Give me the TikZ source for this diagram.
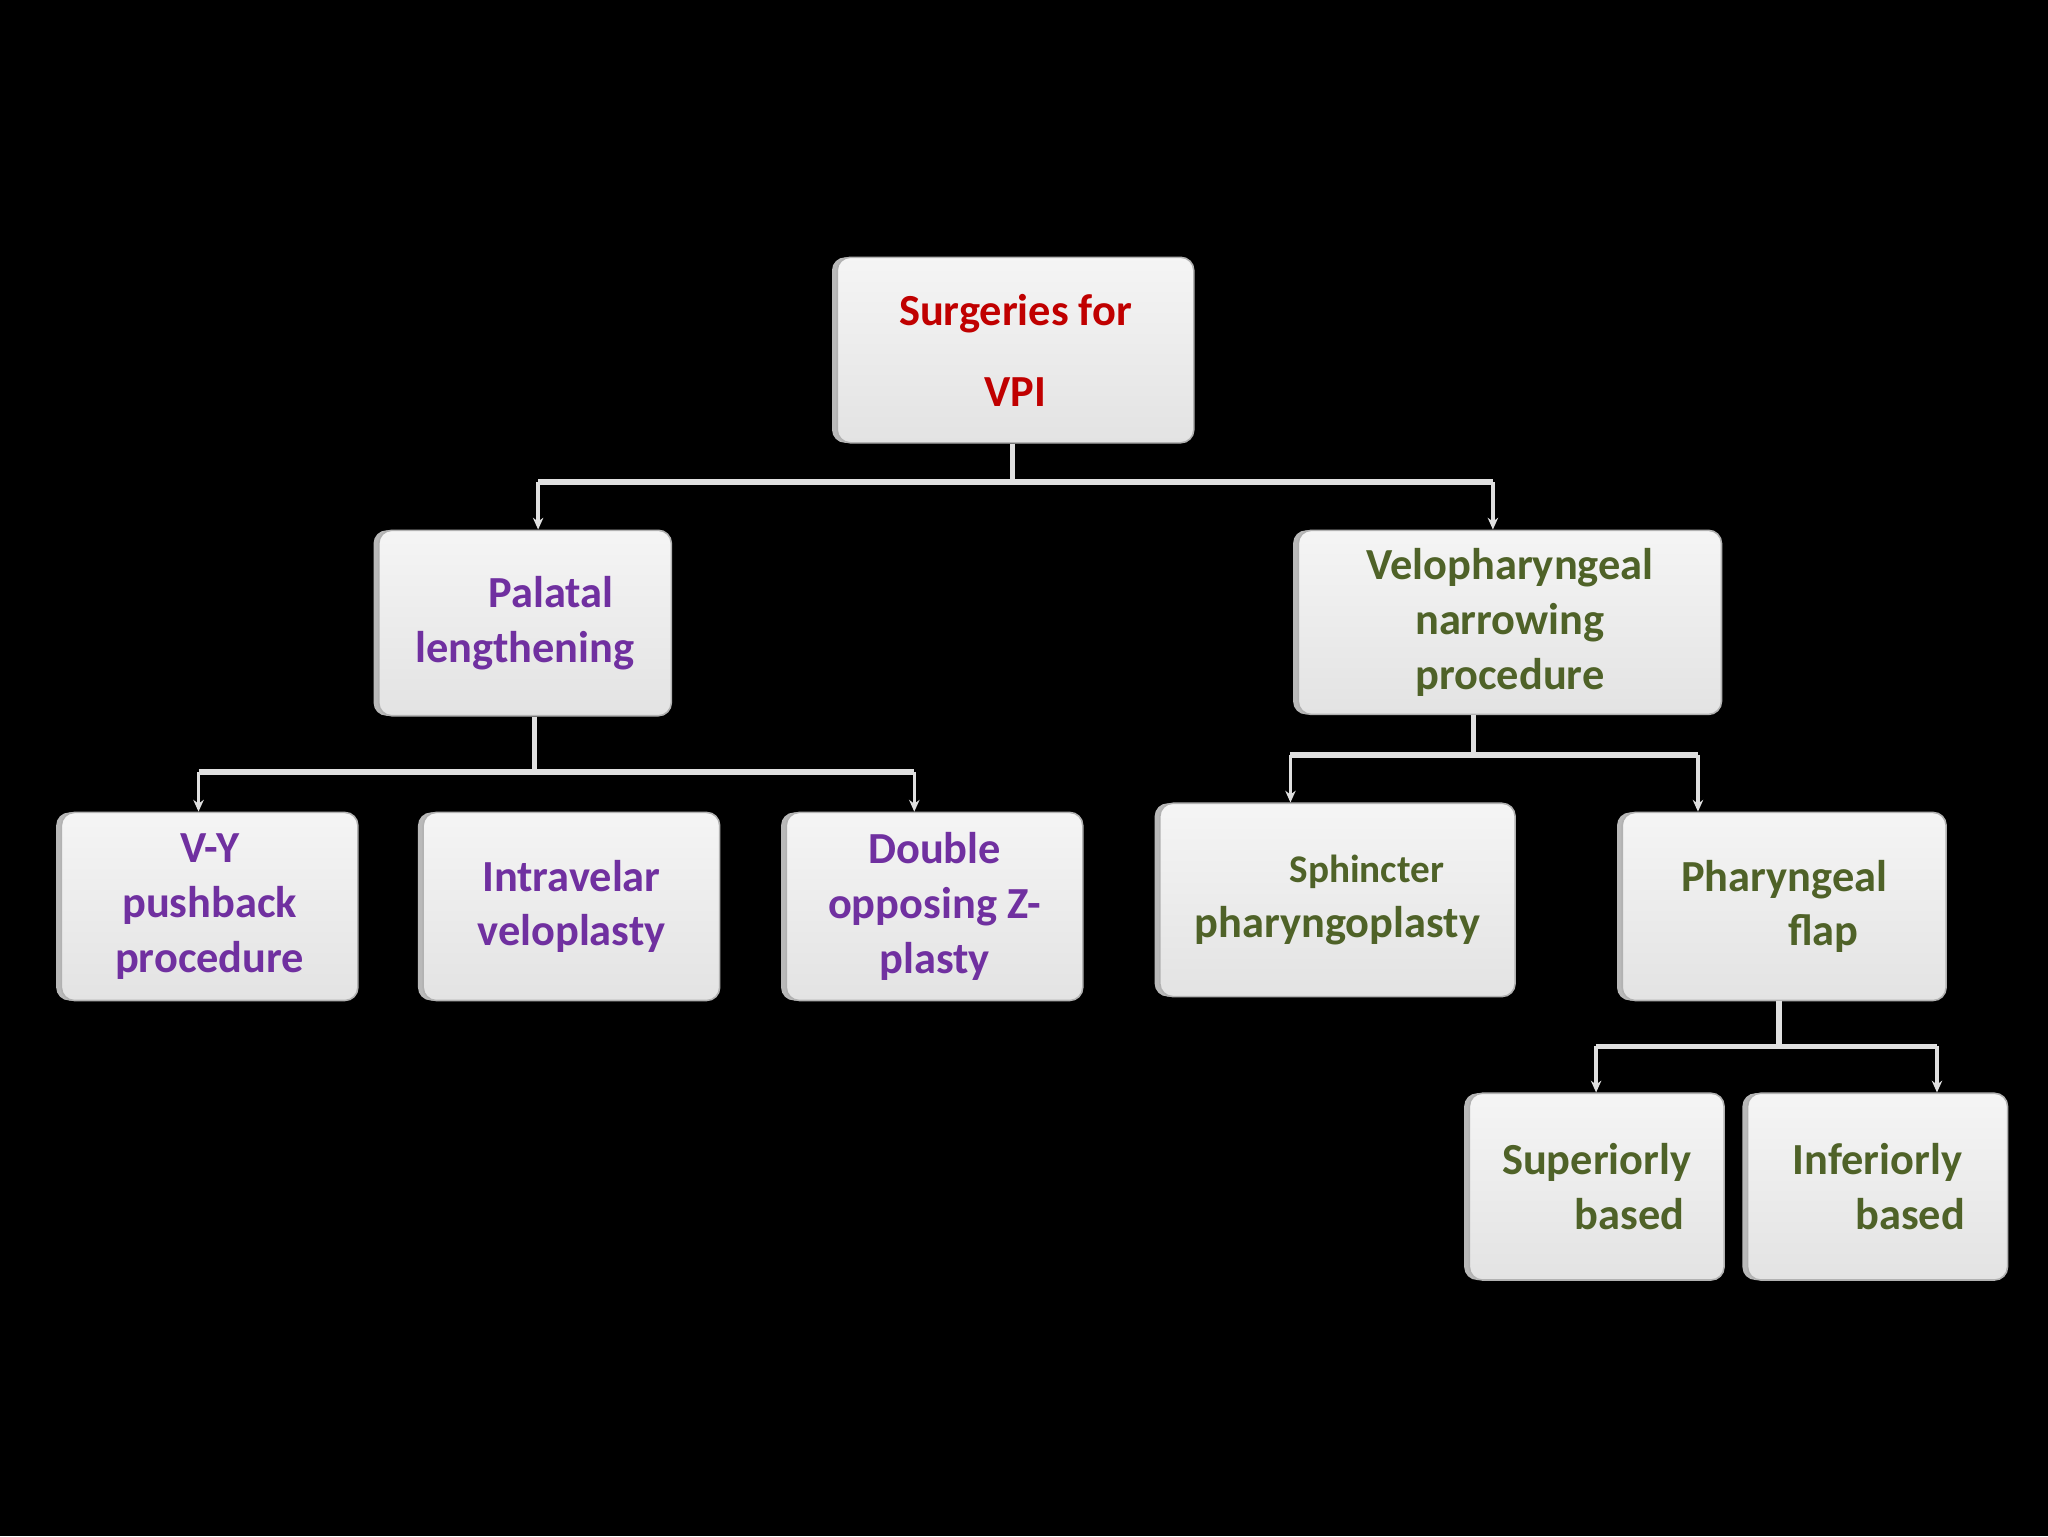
\documentclass[tikz,border=0pt]{standalone}
\usepackage{fontspec}
\setmainfont{Carlito}
\usetikzlibrary{arrows.meta,shadows}
\definecolor{cred}{HTML}{C00000}
\definecolor{cpur}{HTML}{7030A0}
\definecolor{cgrn}{HTML}{4F6228}
\definecolor{cline}{HTML}{E0E0E0}
\begin{document}
\begin{tikzpicture}[x=1pt,y=-1pt,
 box/.style={draw=gray!60,line width=1.2pt,rounded corners=10pt,top color=gray!8,bottom color=gray!22,
   align=center,font=\bfseries\fontsize{34}{42}\selectfont,inner sep=0pt,
   drop shadow={shadow xshift=-4pt,shadow yshift=0pt,fill=gray!55,opacity=1}},
 ln/.style={draw=cline,line width=4pt},
 ar/.style={draw=cline,line width=2.5pt,-{Stealth[length=9pt,width=8pt]}}]
\fill[black] (0,0) rectangle (1568,1176);
\def\bx#1#2#3#4#5#6#7{\node[box,minimum width=#4-#2,minimum height=#5-#3,text=#6] (#1) at ({(#2+#4)/2},{(#3+#5)/2}) {#7};}
\bx{root}{641}{197}{914}{339}{cred}{Surgeries for\\[20pt]VPI}
\bx{pal}{290}{406}{514}{548}{cpur}{\hspace*{40pt}Palatal\\lengthening}
\bx{vel}{994}{406}{1318}{547}{cgrn}{Velopharyngeal\\narrowing\\procedure}
\bx{vy}{47}{622}{274}{766}{cpur}{V-Y\\pushback\\procedure}
\bx{intra}{324}{622}{551}{766}{cpur}{Intravelar\\veloplasty}
\bx{dbl}{602}{622}{829}{766}{cpur}{Double\\opposing Z-\\plasty}
\bx{sph}{888}{615}{1160}{763}{cgrn}{\fontsize{30}{42}\selectfont\hspace*{45pt}Sphincter\\pharyngoplasty}
\bx{flap}{1242}{622}{1490}{766}{cgrn}{Pharyngeal\\\hspace*{60pt}flap}
\bx{sup}{1125}{837}{1320}{980}{cgrn}{Superiorly\\\hspace*{50pt}based}
\bx{inf}{1338}{837}{1537}{980}{cgrn}{Inferiorly\\\hspace*{50pt}based}
% root
\coordinate (r1) at (775,369); \coordinate (rl) at (412,369); \coordinate (rr) at (1143,369);
\draw[ln] (root.south -| r1) -- (r1); \draw[ln] (rl) -- (rr);
\draw[ar] (rl) -- (rl |- pal.north); \draw[ar] (rr) -- (rr |- vel.north);
% palatal
\coordinate (p1) at (409,591); \coordinate (pl) at (152,591); \coordinate (pr) at (700,591);
\draw[ln] (pal.south -| p1) -- (p1); \draw[ln] (pl) -- (pr);
\draw[ar] (pl) -- (pl |- vy.north); \draw[ar] (pr) -- (pr |- dbl.north);
% velo
\coordinate (v1) at (1128,578); \coordinate (vl) at (988,578); \coordinate (vr) at (1300,578);
\draw[ln] (vel.south -| v1) -- (v1); \draw[ln] (vl) -- (vr);
\draw[ar] (vl) -- (vl |- sph.north); \draw[ar] (vr) -- (vr |- flap.north);
% flap
\coordinate (f1) at (1362,801); \coordinate (fl) at (1222,801); \coordinate (fr) at (1483,801);
\draw[ln] (flap.south -| f1) -- (f1); \draw[ln] (fl) -- (fr);
\draw[ar] (fl) -- (fl |- sup.north); \draw[ar] (fr) -- (fr |- inf.north);
\end{tikzpicture}
\end{document}
